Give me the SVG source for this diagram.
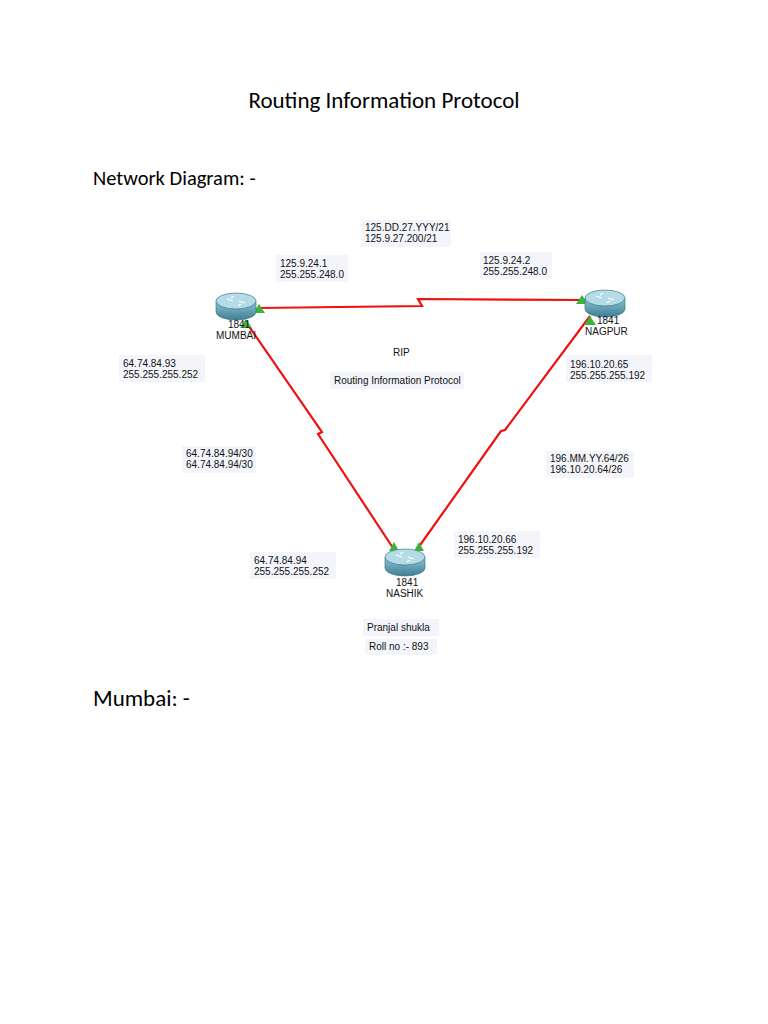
<svg xmlns="http://www.w3.org/2000/svg" width="768" height="1024" viewBox="0 0 768 1024">
<style>
.doc{font-family:"Carlito","Liberation Sans",sans-serif;fill:#000}
.t{font-family:"Liberation Sans",Arial,sans-serif;font-size:10px;fill:#111}
.bg{fill:#f3f5fb}
.link{fill:none;stroke:#f01010;stroke-width:2.2}
.tri{fill:#3cb43c}
</style>
<defs>
<linearGradient id="rg" x1="0" y1="0" x2="0" y2="1"><stop offset="0" stop-color="#8fc3d3"/><stop offset="1" stop-color="#3e7f95"/></linearGradient>
<g id="router">
<path d="M-20,-5 L-20,6 A20,8 0 0 0 20,6 L20,-5 Z" fill="url(#rg)" stroke="#2f6a7d" stroke-width="0.6"/>
<ellipse cx="0" cy="-5" rx="20" ry="8" fill="#b4dbe6" stroke="#2f6a7d" stroke-width="0.6"/>
<path d="M-9,-7 L-3,-5 M3,-5 L9,-3 M-2,-10 L-5,-8 M5,-2 L2,0" stroke="#fff" stroke-width="1.2"/>
</g>
</defs>
<rect width="768" height="1024" fill="#fff"/>
<text class="doc" x="384" y="108" font-size="23" text-anchor="middle">Routing Information Protocol</text>
<text class="doc" x="93" y="185" font-size="20.5">Network Diagram: -</text>
<text class="doc" x="93" y="706" font-size="23">Mumbai: -</text>

<g id="connectors">
<path class="link" d="M258,308 L422,306 L418,299 L585,300"/>
<path class="link" d="M246,322 L322,432 L318,434 L393,548"/>
<path class="link" d="M590,316 L505,430 L501,431 L418,548"/>
<polygon class="tri" points="253,313 259,304 265,313"/>
<polygon class="tri" points="576,304 582,295 588,304"/>
<polygon class="tri" points="240,328 246,319 252,328"/>
<polygon class="tri" points="584,325 590,316 596,325"/>
<polygon class="tri" points="389,551 394,542 399,551"/>
<polygon class="tri" points="414,551 419,542 424,551"/>
</g>

<g id="mumbai"><use href="#router" x="236" y="306"/>
<text class="t" x="228" y="328">1841</text><text class="t" x="216" y="339">MUMBAI</text></g>
<g id="nagpur"><use href="#router" x="605" y="303"/>
<text class="t" x="597" y="324">1841</text><text class="t" x="585" y="335">NAGPUR</text></g>
<g id="nashik"><use href="#router" x="405" y="562"/>
<text class="t" x="396" y="586">1841</text><text class="t" x="386" y="597">NASHIK</text></g>

<g id="labels">
<rect class="bg" x="361" y="220" width="90" height="27"/>
<text class="t" x="365" y="231">125.DD.27.YYY/21</text><text class="t" x="365" y="242">125.9.27.200/21</text>
<rect class="bg" x="276" y="255" width="72" height="27"/>
<text class="t" x="280" y="267">125.9.24.1</text><text class="t" x="280" y="278">255.255.248.0</text>
<rect class="bg" x="480" y="252" width="72" height="27"/>
<text class="t" x="483" y="264">125.9.24.2</text><text class="t" x="483" y="275">255.255.248.0</text>
<text class="t" x="393" y="356">RIP</text>
<rect class="bg" x="330" y="372" width="134" height="17"/>
<text class="t" x="334" y="384">Routing Information Protocol</text>
<rect class="bg" x="119" y="355" width="86" height="27"/>
<text class="t" x="123" y="367">64.74.84.93</text><text class="t" x="123" y="378">255.255.255.252</text>
<rect class="bg" x="566" y="355" width="86" height="27"/>
<text class="t" x="570" y="368">196.10.20.65</text><text class="t" x="570" y="379">255.255.255.192</text>
<rect class="bg" x="182" y="446" width="74" height="27"/>
<text class="t" x="186" y="457">64.74.84.94/30</text><text class="t" x="186" y="468">64.74.84.94/30</text>
<rect class="bg" x="546" y="451" width="88" height="27"/>
<text class="t" x="550" y="462">196.MM.YY.64/26</text><text class="t" x="550" y="473">196.10.20.64/26</text>
<rect class="bg" x="454" y="531" width="86" height="27"/>
<text class="t" x="458" y="543">196.10.20.66</text><text class="t" x="458" y="554">255.255.255.192</text>
<rect class="bg" x="250" y="552" width="86" height="27"/>
<text class="t" x="254" y="564">64.74.84.94</text><text class="t" x="254" y="575">255.255.255.252</text>
<rect class="bg" x="363" y="619" width="76" height="17"/>
<text class="t" x="367" y="631">Pranjal shukla</text>
<rect class="bg" x="365" y="639" width="72" height="16"/>
<text class="t" x="369" y="650">Roll no :- 893</text>
</g>
</svg>
